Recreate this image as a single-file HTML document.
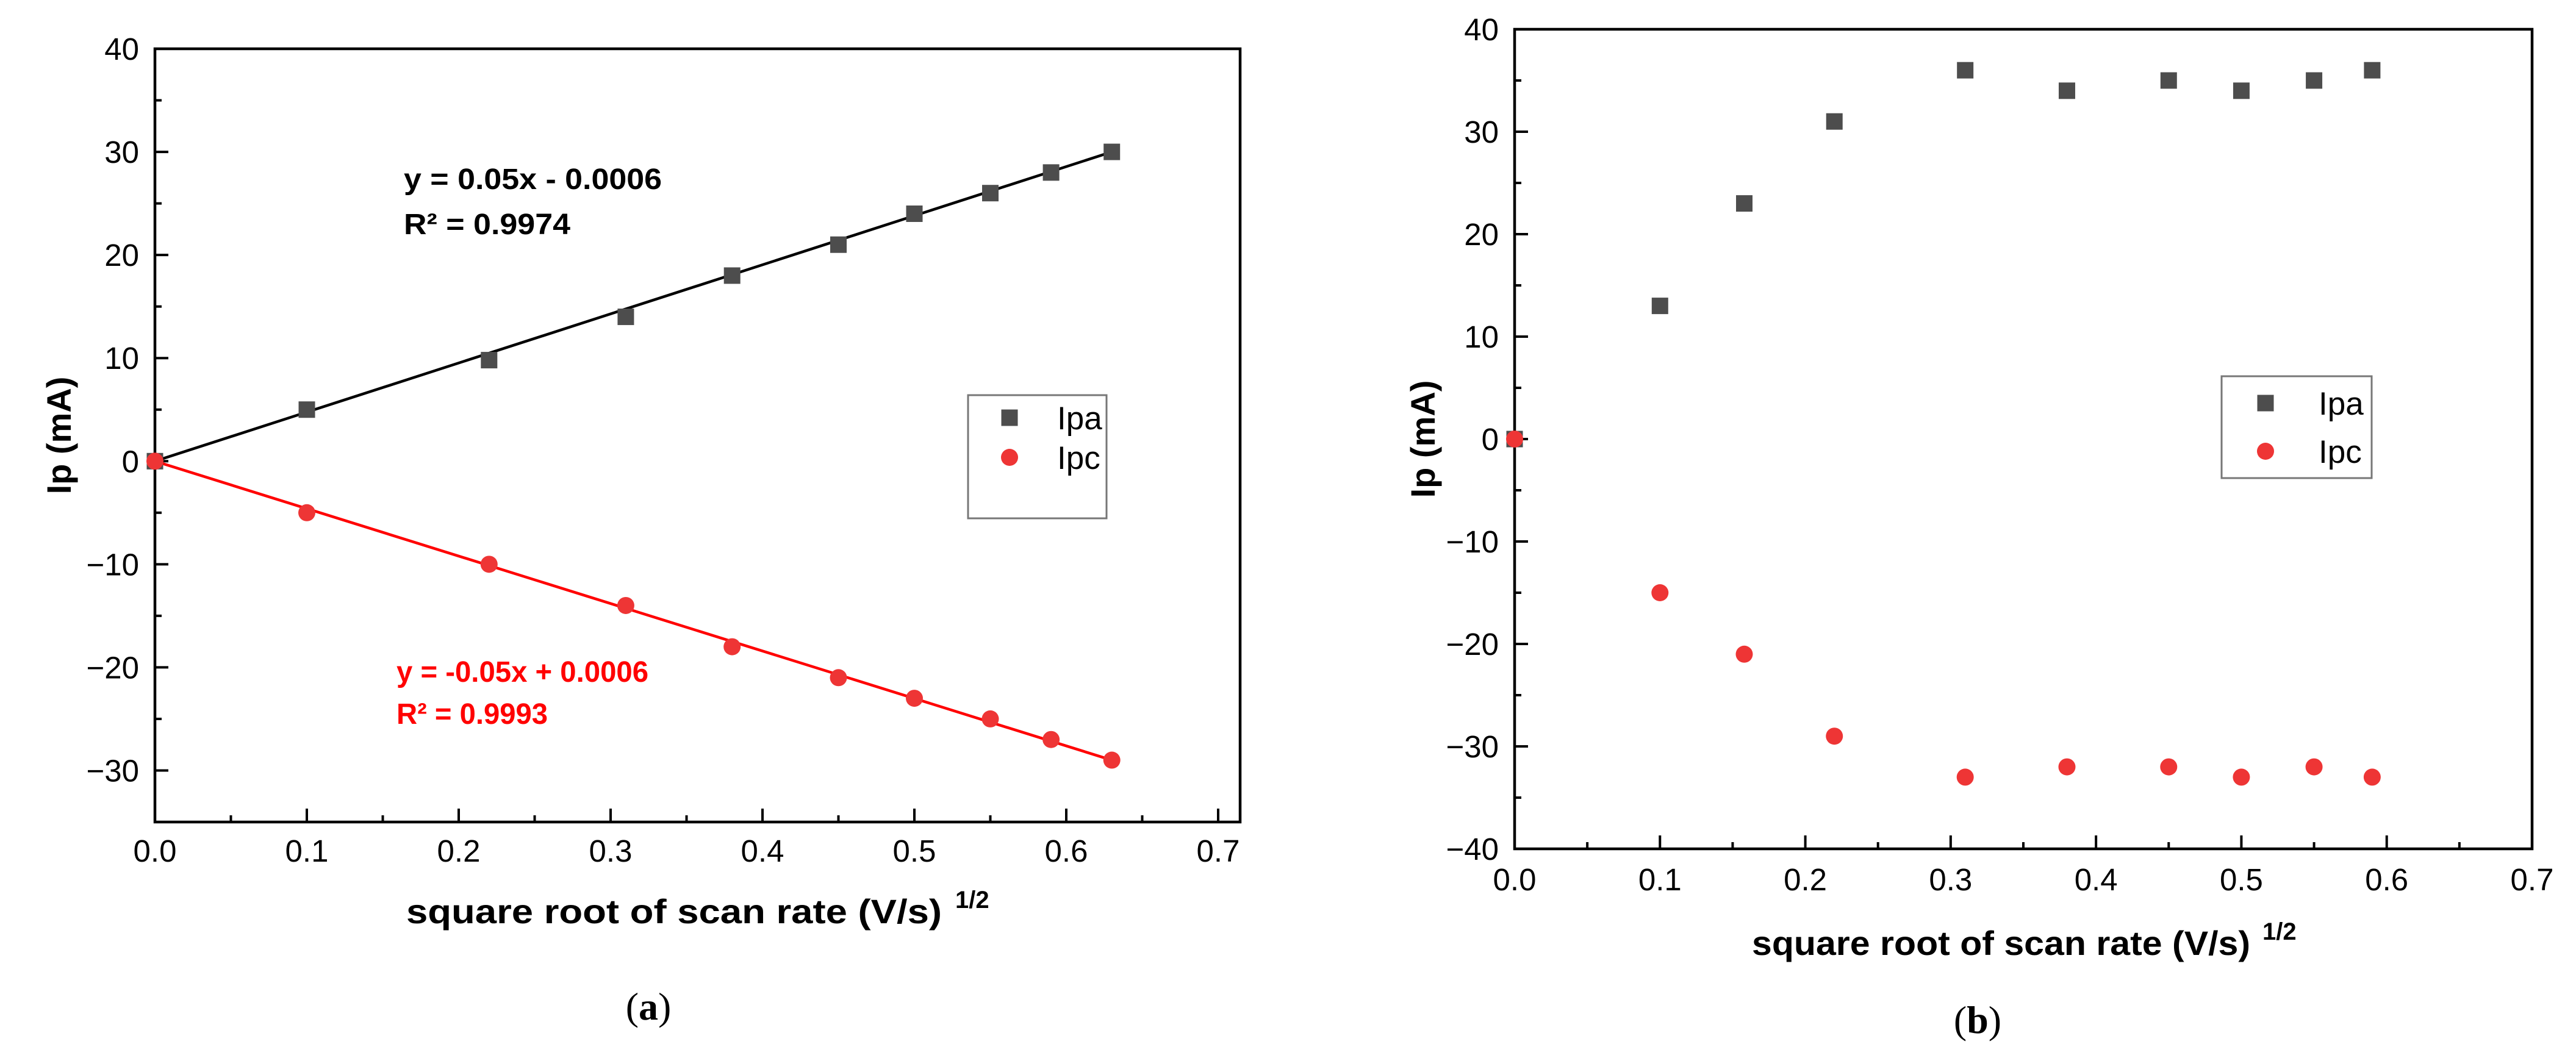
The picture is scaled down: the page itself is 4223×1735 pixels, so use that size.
<!DOCTYPE html>
<html><head><meta charset="utf-8"><style>
html,body{margin:0;padding:0;background:#fff;}
svg{display:block;}
text{font-family:"Liberation Sans",Arial,sans-serif;}
</style></head><body>
<svg id="fig" width="4223" height="1735" viewBox="0 0 4223 1735" xmlns="http://www.w3.org/2000/svg">
<rect width="4223" height="1735" fill="#fff"/>
<g id="pa"></g>
<g id="pb"></g>
</svg>
<script>
// ---- Chart (a) data ----
const xA = [0, 0.1, 0.22, 0.31, 0.38, 0.45, 0.5, 0.55, 0.59, 0.63];
const ipaA = [0, 5, 9.8, 14, 18, 21, 24, 26, 28, 30];
const ipcA = [0, -5, -10, -14, -18, -21, -23, -25, -27, -29];
const fitA_ipa = [0, 30];   // fit line y at x=0 and x=0.63
const fitA_ipc = [0, -29];
const fitXA = [0, 0.63];
const yTicksA = [40, 30, 20, 10, 0, -10, -20, -30];
const xTickLabels = ["0.0","0.1","0.2","0.3","0.4","0.5","0.6","0.7"];
// ---- Chart (b) data ----
const xB = [0, 0.1, 0.158, 0.22, 0.31, 0.38, 0.45, 0.5, 0.55, 0.59];
const ipaB = [0, 13, 23, 31, 36, 34, 35, 34, 35, 36];
const ipcB = [0, -15, -21, -29, -33, -32, -32, -33, -32, -33];
const yTicksB = [40, 30, 20, 10, 0, -10, -20, -30, -40];

const NS = "http://www.w3.org/2000/svg";
function mk(parent, tag, attrs, txt){
  const e = document.createElementNS(NS, tag);
  for (const k in attrs) e.setAttribute(k, attrs[k]);
  if (txt !== undefined) e.textContent = txt;
  parent.appendChild(e);
  return e;
}

function drawChart(g, cfg){
  const sx = v => cfg.x0 + (v - 0) / 0.7 * (cfg.x07 - cfg.x0);
  const sy = v => cfg.top + (cfg.ymax - v) / (cfg.ymax - cfg.ymin) * (cfg.bottom - cfg.top);
  // frame
  const fr = mk(g, "rect", {x: cfg.x0, y: cfg.top, width: cfg.right - cfg.x0, height: cfg.bottom - cfg.top, fill: "none", stroke: "#000", "stroke-width": 4.5});
  
  
  // x ticks
  for (let i = 0; i <= 14; i++){
    const v = i * 0.05;
    const X = sx(v);
    const len = i % 2 === 0 ? 22 : 11;
    const t = mk(g, "line", {x1: X, x2: X, y1: cfg.bottom, y2: cfg.bottom - len, stroke: "#000", "stroke-width": 4});
    
    
    if (i % 2 === 0){
      const lb = mk(g, "text", {x: X, y: cfg.xLabY, "font-size": 51, "text-anchor": "middle", fill: "#000"}, xTickLabels[i/2]);
      
      
    }
  }
  // y ticks
  for (let v = cfg.ymin; v <= cfg.ymax; v += 5){
    const Y = sy(v);
    const major = (v % 10 === 0);
    const t = mk(g, "line", {x1: cfg.x0, x2: cfg.x0 + (major ? 22 : 11), y1: Y, y2: Y, stroke: "#000", "stroke-width": 4});
    
    
  }
  cfg.yTicks.forEach(v => {
    const lb = mk(g, "text", {x: cfg.yLabX, y: sy(v) + 18, "font-size": 51, "text-anchor": "end", fill: "#000"}, (v < 0 ? "\u2212" + Math.abs(v) : String(v)));
    
    
  });
  // axis titles
  const yt = mk(g, "text", {x: 0, y: 0, "font-size": 56, "font-weight": "bold", "text-anchor": "middle", transform: `translate(${cfg.yTitleX},${cfg.yTitleY}) rotate(-90)`}, "Ip (mA)");
  
  
  const xt = mk(g, "text", {x: cfg.xTitleX, y: cfg.xTitleY, "font-size": 56, "font-weight": "bold", textLength: cfg.xTitleW, lengthAdjust: "spacingAndGlyphs"}, "square root of scan rate (V/s)");
  
  
  const sup = mk(g, "text", {x: cfg.supX, y: cfg.xTitleY - 25, "font-size": 40, "font-weight": "bold"}, "1/2");
  
  
  const cap = mk(g, "text", {x: cfg.capX, y: cfg.capY, "font-size": 64, "text-anchor": "middle", style: "font-family:'Liberation Serif',serif"}, "");
  
  
  mk(cap, "tspan", {}, "(");
  mk(cap, "tspan", {"font-weight": "bold"}, cfg.cap);
  mk(cap, "tspan", {}, ")");
  // fit lines
  if (cfg.fits){
    cfg.fits.forEach(f => {
      const ln = mk(g, "line", {x1: sx(fitXA[0]), y1: sy(f.ys[0]), x2: sx(fitXA[1]), y2: sy(f.ys[1]), stroke: f.color, "stroke-width": 4.5});
      
      
    });
  }
  // series
  cfg.xs.forEach((xv, i) => {
    const s = mk(g, "rect", {x: sx(xv) - 13.5, y: sy(cfg.ipa[i]) - 13.5, width: 27, height: 27, fill: "#4d4d4d"});
    
    
  });
  cfg.xs.forEach((xv, i) => {
    const c = mk(g, "circle", {cx: sx(xv), cy: sy(cfg.ipc[i]), r: 14, fill: "#ee3535"});
    
    
  });
  // legend
  const L = cfg.leg;
  const lg = mk(g, "g", {});
  
  
  mk(lg, "rect", {x: L.x, y: L.y, width: L.w, height: L.h, fill: "#fff", stroke: "#777", "stroke-width": 3});
  const e1 = mk(lg, "rect", {x: L.mx - 13.5, y: L.y1 - 13.5, width: 27, height: 27, fill: "#4d4d4d"});
  
  
  const t1 = mk(lg, "text", {x: L.tx, y: L.y1 + 19, "font-size": 53}, "Ipa");
  
  
  const e2 = mk(lg, "circle", {cx: L.mx, cy: L.y2, r: 14, fill: "#ee3535"});
  
  
  const t2 = mk(lg, "text", {x: L.tx, y: L.y2 + 19, "font-size": 53}, "Ipc");
  
  
}

const ga = document.getElementById("pa");
drawChart(ga, {
  x0: 254, x07: 1997, right: 2033, top: 80, bottom: 1348, ymin: -35, ymax: 40,
  yTicks: yTicksA, yLabX: 228, xLabY: 1413,
  yTitleX: 116, yTitleY: 714, xTitleX: 666, xTitleY: 1514, xTitleW: 878, supX: 1566,
  capX: 1063, capY: 1672, cap: "a",
  xs: xA, ipa: ipaA, ipc: ipcA,
  fits: [{ys: fitA_ipa, color: "#000", name: "ipa-fit-line"}, {ys: fitA_ipc, color: "#ff0000", name: "ipc-fit-line"}],
  leg: {x: 1587, y: 648, w: 227, h: 202, mx: 1655, y1: 685, y2: 750, tx: 1733}
});
const eqs = [
  {t: "y = 0.05x - 0.0006", x: 662, y: 310, w: 423, c: "#000", n: "ipa-fit-equation"},
  {t: "R\u00b2 = 0.9974", x: 662, y: 384, w: 273, c: "#000", n: "ipa-fit-r2"},
  {t: "y = -0.05x + 0.0006", x: 650, y: 1118, w: 413, c: "#ff0000", n: "ipc-fit-equation"},
  {t: "R\u00b2 = 0.9993", x: 650, y: 1187, w: 248, c: "#ff0000", n: "ipc-fit-r2"}
];
eqs.forEach(e => {
  const t = mk(ga, "text", {x: e.x, y: e.y, "font-size": 48, "font-weight": "bold", fill: e.c, textLength: e.w, lengthAdjust: "spacingAndGlyphs"}, e.t);
  
  
});

const gb = document.getElementById("pb");
drawChart(gb, {
  x0: 2483, x07: 4151, right: 4151, top: 48, bottom: 1392, ymin: -40, ymax: 40,
  yTicks: yTicksB, yLabX: 2457, xLabY: 1460,
  yTitleX: 2352, yTitleY: 720, xTitleX: 2872, xTitleY: 1566, xTitleW: 817, supX: 3709,
  capX: 3242, capY: 1694, cap: "b",
  xs: xB, ipa: ipaB, ipc: ipcB, fits: null,
  leg: {x: 3642, y: 617, w: 246, h: 167, mx: 3714, y1: 661, y2: 740, tx: 3801}
});
</script>
</body></html>
